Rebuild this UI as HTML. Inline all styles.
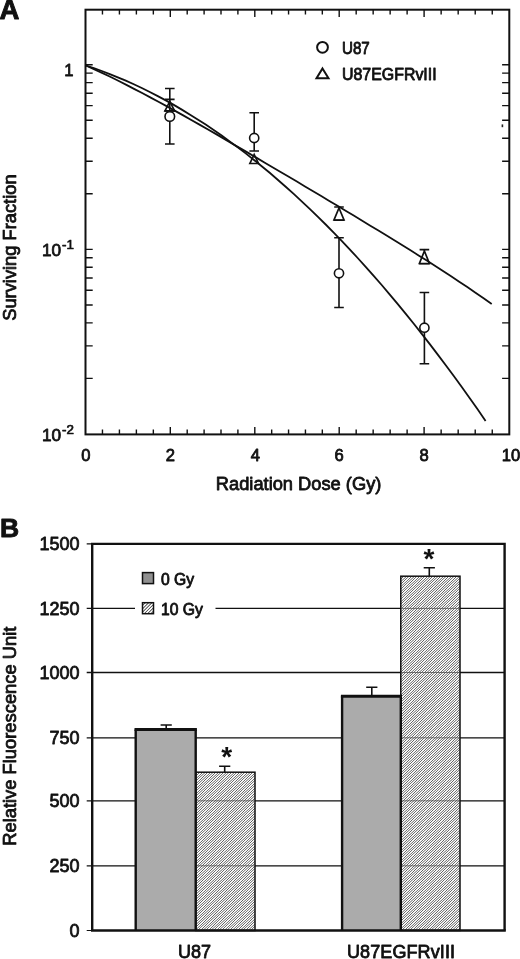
<!DOCTYPE html>
<html lang="en"><head><meta charset="utf-8"><title>Figure</title>
<style>html,body{margin:0;padding:0;background:#fff}body{width:520px;height:959px;overflow:hidden}</style></head>
<body>
<svg width="520" height="959" viewBox="0 0 520 959" style="display:block">
<defs><linearGradient id="hg" gradientUnits="userSpaceOnUse" x1="0" y1="0" x2="1.256" y2="1.323" spreadMethod="repeat"><stop offset="0" stop-color="#ffffff"/><stop offset="0.04167" stop-color="#ffffff"/><stop offset="0.08333" stop-color="#ffffff"/><stop offset="0.125" stop-color="#ffffff"/><stop offset="0.1667" stop-color="#ffffff"/><stop offset="0.2083" stop-color="#f2f2f2"/><stop offset="0.25" stop-color="#d4d4d4"/><stop offset="0.2917" stop-color="#b6b6b6"/><stop offset="0.3333" stop-color="#9a9a9a"/><stop offset="0.375" stop-color="#818181"/><stop offset="0.4167" stop-color="#6f6f6f"/><stop offset="0.4583" stop-color="#636363"/><stop offset="0.5" stop-color="#5f5f5f"/><stop offset="0.5417" stop-color="#636363"/><stop offset="0.5833" stop-color="#6f6f6f"/><stop offset="0.625" stop-color="#818181"/><stop offset="0.6667" stop-color="#999999"/><stop offset="0.7083" stop-color="#b6b6b6"/><stop offset="0.75" stop-color="#d4d4d4"/><stop offset="0.7917" stop-color="#f2f2f2"/><stop offset="0.8333" stop-color="#ffffff"/><stop offset="0.875" stop-color="#ffffff"/><stop offset="0.9167" stop-color="#ffffff"/><stop offset="0.9583" stop-color="#ffffff"/><stop offset="1" stop-color="#ffffff"/></linearGradient><linearGradient id="hg2" gradientUnits="userSpaceOnUse" x1="0.6" y1="0" x2="2.250" y2="1.650" spreadMethod="repeat"><stop offset="0" stop-color="#ffffff"/><stop offset="0.0625" stop-color="#ffffff"/><stop offset="0.125" stop-color="#ffffff"/><stop offset="0.1875" stop-color="#f2f2f2"/><stop offset="0.25" stop-color="#c8c8c8"/><stop offset="0.3125" stop-color="#9e9e9e"/><stop offset="0.375" stop-color="#7a7a7a"/><stop offset="0.4375" stop-color="#626262"/><stop offset="0.5" stop-color="#5a5a5a"/><stop offset="0.5625" stop-color="#626262"/><stop offset="0.625" stop-color="#7a7a7a"/><stop offset="0.6875" stop-color="#9e9e9e"/><stop offset="0.75" stop-color="#c8c8c8"/><stop offset="0.8125" stop-color="#f2f2f2"/><stop offset="0.875" stop-color="#ffffff"/><stop offset="0.9375" stop-color="#ffffff"/><stop offset="1" stop-color="#ffffff"/></linearGradient></defs>
<rect width="520" height="959" fill="#fff"/>
<g id="panelA" stroke="#111" fill="none" stroke-linecap="butt">
<rect x="85.5" y="9.7" width="423.80" height="424.70" stroke-width="2"/>
<path d="M102.46 434.4v-4.9M102.46 9.7v4.9M119.42 434.4v-4.9M119.42 9.7v4.9M136.38 434.4v-4.9M136.38 9.7v4.9M153.34 434.4v-4.9M153.34 9.7v4.9M170.30 434.4v-7.4M170.30 9.7v7.4M187.20 434.4v-4.9M187.20 9.7v4.9M204.10 434.4v-4.9M204.10 9.7v4.9M221.00 434.4v-4.9M221.00 9.7v4.9M237.90 434.4v-4.9M237.90 9.7v4.9M254.80 434.4v-7.4M254.80 9.7v7.4M271.68 434.4v-4.9M271.68 9.7v4.9M288.56 434.4v-4.9M288.56 9.7v4.9M305.44 434.4v-4.9M305.44 9.7v4.9M322.32 434.4v-4.9M322.32 9.7v4.9M339.20 434.4v-7.4M339.20 9.7v7.4M356.18 434.4v-4.9M356.18 9.7v4.9M373.16 434.4v-4.9M373.16 9.7v4.9M390.14 434.4v-4.9M390.14 9.7v4.9M407.12 434.4v-4.9M407.12 9.7v4.9M424.10 434.4v-7.4M424.10 9.7v7.4M441.14 434.4v-4.9M441.14 9.7v4.9M458.18 434.4v-4.9M458.18 9.7v4.9M475.22 434.4v-4.9M475.22 9.7v4.9M492.26 434.4v-4.9M492.26 9.7v4.9" stroke-width="1.4"/>
<path d="M85.5 64.70h7.2M509.3 64.70h-7.2M85.5 249.35h7.2M509.3 249.35h-7.2M85.5 193.76h7.2M509.3 193.76h-7.2M85.5 161.25h7.2M509.3 161.25h-7.2M85.5 138.18h7.2M509.3 138.18h-7.2M85.5 120.29h7.2M509.3 120.29h-7.2M85.5 105.66h7.2M509.3 105.66h-7.2M85.5 93.30h7.2M509.3 93.30h-7.2M85.5 82.59h7.2M509.3 82.59h-7.2M85.5 73.15h7.2M509.3 73.15h-7.2M85.5 378.41h7.2M509.3 378.41h-7.2M85.5 345.90h7.2M509.3 345.90h-7.2M85.5 322.83h7.2M509.3 322.83h-7.2M85.5 304.94h7.2M509.3 304.94h-7.2M85.5 290.31h7.2M509.3 290.31h-7.2M85.5 277.95h7.2M509.3 277.95h-7.2M85.5 267.24h7.2M509.3 267.24h-7.2M85.5 257.80h7.2M509.3 257.80h-7.2" stroke-width="1.4"/>
<polyline points="85.8,65.5 93.8,68.2 101.8,71.0 109.8,74.1 117.8,77.3 125.8,80.7 133.8,84.3 141.8,88.0 149.8,92.0 157.8,96.1 165.8,100.4 173.8,104.9 181.8,109.6 189.7,114.4 197.7,119.4 205.7,124.6 213.7,130.0 221.7,135.6 229.7,141.4 237.7,147.3 245.7,153.4 253.7,159.7 261.7,166.2 269.7,172.8 277.7,179.7 285.7,186.7 293.7,193.9 301.7,201.3 309.7,208.8 317.7,216.6 325.7,224.5 333.7,232.6 341.7,240.9 349.7,249.3 357.7,258.0 365.7,266.8 373.7,275.8 381.7,285.0 389.6,294.4 397.6,303.9 405.6,313.6 413.6,323.5 421.6,333.6 429.6,343.9 437.6,354.4 445.6,365.0 453.6,375.8 461.6,386.8 469.6,398.0 477.6,409.3 485.6,420.9" stroke-width="1.8"/>
<polyline points="85.8,65.5 93.9,69.2 102.0,72.9 110.2,76.8 118.3,80.8 126.4,84.9 134.5,89.1 142.6,93.3 150.7,97.6 158.9,102.0 167.0,106.4 175.1,110.9 183.2,115.4 191.3,120.0 199.5,124.6 207.6,129.3 215.7,133.9 223.8,138.6 231.9,143.4 240.0,148.1 248.2,152.9 256.3,157.6 264.4,162.4 272.5,167.2 280.6,172.0 288.8,176.8 296.9,181.6 305.0,186.4 313.1,191.3 321.2,196.1 329.3,201.0 337.5,205.8 345.6,210.7 353.7,215.6 361.8,220.5 369.9,225.4 378.0,230.3 386.2,235.3 394.3,240.2 402.4,245.3 410.5,250.3 418.6,255.4 426.8,260.5 434.9,265.7 443.0,271.0 451.1,276.3 459.2,281.7 467.3,287.1 475.5,292.7 483.6,298.3 491.7,304.0" stroke-width="1.8"/>
<path d="M169.8 88.5V144.0M165.0 88.5h9.6M165.0 144.0h9.6M169.8 99.4V101.3M165.0 99.4h9.6M164.5 110.9h10.6M254.2 112.7V151.0M249.4 112.7h9.6M249.4 151.0h9.6M339.0 237.7V307.5M334.2 237.7h9.6M334.2 307.5h9.6M339.0 207.0V208.0M334.2 207.0h9.6M333.7 220.2h10.6M424.4 292.5V363.8M419.6 292.5h9.6M419.6 363.8h9.6M424.4 249.6V251.0M419.6 249.6h9.6M419.1 263.7h10.6" stroke-width="1.6"/>
<path d="M169.8 101.3L174.6 110.8H165.0Z" stroke-width="1.7" stroke-linejoin="miter"/>
<circle cx="169.8" cy="116.5" r="4.8" fill="#fff" stroke-width="1.6"/>
<circle cx="254.2" cy="138.0" r="4.6" fill="#fff" stroke-width="1.6"/>
<path d="M254.2 154.5L258.5 163.5H249.9Z" stroke-width="1.7" stroke-linejoin="miter"/>
<path d="M339.0 208.0L344.0 220.0H334.0Z" stroke-width="1.7" stroke-linejoin="miter"/>
<circle cx="339.0" cy="273.3" r="4.6" fill="#fff" stroke-width="1.6"/>
<path d="M424.4 251.0L429.4 263.5H419.4Z" stroke-width="1.7" stroke-linejoin="miter"/>
<circle cx="424.4" cy="327.7" r="4.6" fill="#fff" stroke-width="1.6"/>
<rect x="501.6" y="124.4" width="1.6" height="2.8" fill="#222" stroke="none"/>
<circle cx="322.5" cy="47.3" r="5.4" stroke-width="2"/>
<path d="M322.5 68.4L328.5 78.2H316.5Z" stroke-width="2"/>
</g>
<g font-family="'Liberation Sans', Arial, sans-serif" fill="#111" stroke="#111" stroke-width="0.8" stroke-linejoin="round">
<text x="-0.4" y="19.3" font-size="27.5" font-weight="bold" stroke-width="0.9">A</text>
<text x="0" y="537.4" font-size="26.5" font-weight="bold" stroke-width="0.9">B</text>
<text x="342" y="53.7" font-size="16" textLength="27.8" lengthAdjust="spacingAndGlyphs">U87</text>
<text x="342" y="79.7" font-size="16" textLength="94.6" lengthAdjust="spacingAndGlyphs">U87EGFRvIII</text>
<text x="73.5" y="76" font-size="16.6" text-anchor="end">1</text>
<text x="61.1" y="255.7" font-size="17.2" text-anchor="end">10</text><text x="62" y="248.9" font-size="13.4" stroke-width="0.7">-1</text>
<text x="61.1" y="440.6" font-size="17.2" text-anchor="end">10</text><text x="62" y="433.8" font-size="13.4" stroke-width="0.7">-2</text>
<text x="85.8" y="461" font-size="16.6" text-anchor="middle">0</text>
<text x="170.4" y="461" font-size="16.6" text-anchor="middle">2</text>
<text x="255.3" y="461" font-size="16.6" text-anchor="middle">4</text>
<text x="339.0" y="461" font-size="16.6" text-anchor="middle">6</text>
<text x="424.0" y="461" font-size="16.6" text-anchor="middle">8</text>
<text x="510.9" y="461" font-size="16.6" text-anchor="middle">10</text>
<text x="298.6" y="490" font-size="18.3" text-anchor="middle">Radiation Dose (Gy)</text>
<text transform="translate(15.9 247.6) rotate(-90)" font-size="18.3" text-anchor="middle">Surviving Fraction</text>
</g>
<g id="panelB" stroke="#111" fill="none">
<path d="M86.7 865.80H504.6M86.7 800.80H504.6M86.7 737.80H504.6M86.7 672.50H504.6M86.7 608.40H504.6" stroke-width="1.35"/>
<path d="M86.7 543.9h6M86.7 930.5h6" stroke-width="1.2"/>
<rect x="135" y="566" width="80.5" height="56" fill="#fff" stroke="none"/>
<path d="M166.2 729V725M160.6 725h11.2M224.7 772V766.2M219.1 766.2h11.2M371.8 696V687.3M366.2 687.3h11.2M429.3 576V567.8M423.7 567.8h11.2" stroke-width="1.6"/>
<rect x="195.7" y="772.2" width="59.30" height="158.30" fill="url(#hg)" stroke="none"/><rect x="195.7" y="772.2" width="59.30" height="158.30" stroke-width="1.5"/>
<rect x="400.8" y="576.2" width="59.20" height="354.30" fill="url(#hg)" stroke="none"/><rect x="400.8" y="576.2" width="59.20" height="354.30" stroke-width="1.5"/>
<path d="M196 865.80H255M196 800.80H255M401 865.80H460M401 800.80H460M401 737.80H460M401 672.50H460M401 608.40H460" stroke-width="1" stroke="#444" opacity="0.7"/>
<rect x="135.7" y="729.5" width="60.00" height="201.00" fill="#ababab" stroke="none"/><path d="M135.7 930.5V729.5M195.7 729.5V930.5" stroke-width="2.4"/><path d="M134.5 729.5H196.89999999999998" stroke-width="3"/>
<rect x="342.1" y="696.3" width="58.70" height="234.20" fill="#ababab" stroke="none"/><path d="M342.1 930.5V696.3M400.8 696.3V930.5" stroke-width="2.4"/><path d="M340.90000000000003 696.3H402.0" stroke-width="3"/>
<path d="M92.2 930.5V543.9H504.6V930.5" stroke-width="2.4"/>
<path d="M91.0 930.5H505.8" stroke-width="2.4"/>
<rect x="142.5" y="572.6" width="11" height="11" fill="#909090" stroke-width="1.5"/>
<rect x="142.5" y="602.7" width="11" height="11" fill="url(#hg2)" stroke-width="1.5"/>
</g>
<g font-family="'Liberation Sans', Arial, sans-serif" fill="#111" stroke="#111" stroke-width="0.8" stroke-linejoin="round">
<text x="79.5" y="936.9" font-size="18" text-anchor="end">0</text>
<text x="79.5" y="872.2" font-size="18" text-anchor="end">250</text>
<text x="79.5" y="807.2" font-size="18" text-anchor="end">500</text>
<text x="79.5" y="744.2" font-size="18" text-anchor="end">750</text>
<text x="79.5" y="678.9" font-size="18" text-anchor="end">1000</text>
<text x="79.5" y="614.8" font-size="18" text-anchor="end">1250</text>
<text x="79.5" y="550.3" font-size="18" text-anchor="end">1500</text>
<text x="161" y="584.5" font-size="15.7" stroke-width="0.8">0 Gy</text>
<text x="161" y="614.8" font-size="15.7" stroke-width="0.8">10 Gy</text>
<text x="194.5" y="957.5" font-size="18" text-anchor="middle">U87</text>
<text x="347" y="957.5" font-size="18" textLength="108" lengthAdjust="spacing">U87EGFRvIII</text>
<text transform="translate(15.8 736.2) rotate(-90)" font-size="18.35" text-anchor="middle">Relative Fluorescence Unit</text>
<text x="226.6" y="765.5" font-size="28" font-weight="bold" text-anchor="middle" stroke="none">*</text>
<text x="429" y="568.2" font-size="28" font-weight="bold" text-anchor="middle" stroke="none">*</text>
</g>
</svg>
</body></html>
